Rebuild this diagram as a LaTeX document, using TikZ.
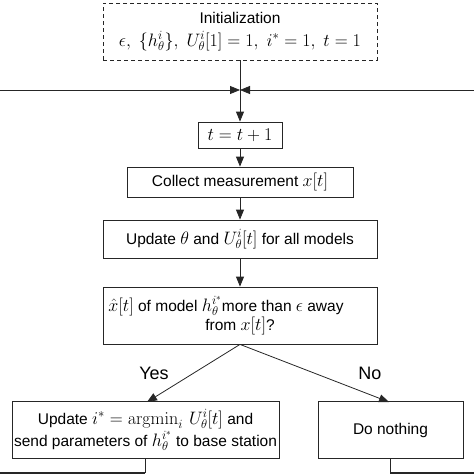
\RequirePackage{fix-cm}
\documentclass[tikz,border=0pt]{standalone}
\usepackage[no-math]{fontspec}
\setmainfont{Liberation Sans}
\usetikzlibrary{arrows.meta}
\newcommand\mth[1]{{\fontsize{18}{22}\selectfont$#1$}}
\tikzset{
  box/.style={draw=black!85, line width=0.8pt, rectangle, inner sep=0pt, align=center,
    font=\fontsize{15.5}{22}\selectfont},
  dbox/.style={box, dashed, dash pattern=on 4pt off 3pt},
  arr/.style={draw=black!85, line width=0.8pt, -{Triangle[length=10pt,width=8pt]}},
  ln/.style={draw=black!85, line width=0.8pt},
  lbl/.style={font=\fontsize{18}{20}\selectfont}
}
\begin{document}
\begin{tikzpicture}[x=1pt,y=-1pt]
\useasboundingbox (0,0) rectangle (474,474);
\node[dbox, minimum width=274pt, minimum height=57pt] (init) at (240,31.5)
  {Initialization\\[1pt] \mth{\epsilon,\ \{h_\theta^i\},\ U_\theta^i[1]=1,\ i^*=1,\ t=1}};
\node[box, minimum width=84pt, minimum height=26pt] (inc) at (240,135) {\mth{t=t+1}};
\node[box, minimum width=226pt, minimum height=30pt] (coll) at (240,182) {Collect measurement \mth{x[t]}};
\node[box, minimum width=274pt, minimum height=38pt] (upd) at (240,239)
  {Update \mth{\theta} and \mth{U_\theta^i[t]} for all models};
\node[box, minimum width=274pt, minimum height=57pt, font=\fontsize{15.5}{19}\selectfont] (dec) at (240,315.5)
  {\mth{\hat{x}[t]} of model \mth{h_\theta^{i^*}}more than \mth{\epsilon} away\hspace*{28pt}\\ from \mth{x[t]}?};
\node[box, minimum width=267pt, minimum height=57pt] (yes) at (145.5,430)
  {Update \mth{i^*=\mathop{\mathrm{argmin}}_i\, U_\theta^i[t]} and\\ send parameters of \mth{h_\theta^{i^*}} to base station};
\node[box, minimum width=145pt, minimum height=57pt] (no) at (390.5,430) {Do nothing};
\node[lbl] (ylab) at (154,373) {Yes};
\node[lbl] (nlab) at (370,373) {No};

\coordinate (merge) at (240,90);
\coordinate (lefttop) at (0,90);
\coordinate (righttop) at (474,90);
\coordinate (yestop) at (147,402);
\coordinate (notop) at (389,402);
\coordinate (yesdown) at (145,473);
\coordinate (nodown) at (390,473);
\coordinate (leftbot) at (0,473);
\coordinate (rightbot) at (474,473);

\draw[ln] (init.south) -- (merge);
\draw[arr] (merge) -- (inc.north);
\draw[arr] (lefttop) -- (merge);
\draw[arr] (righttop) -- (merge);
\draw[arr] (inc) -- (coll);
\draw[arr] (coll) -- (upd);
\draw[arr] (upd) -- (dec);
\draw[arr] (dec.south) -- (yestop);
\draw[arr] (dec.south) -- (notop);
\draw[ln] (yes.south -| yesdown) -- (yesdown);
\draw[ln, line width=1.6pt] (yesdown) -- (leftbot);
\draw[ln] (no.south -| nodown) -- (nodown);
\draw[ln, line width=1.6pt] (nodown) -- (rightbot);
\end{tikzpicture}
\end{document}
